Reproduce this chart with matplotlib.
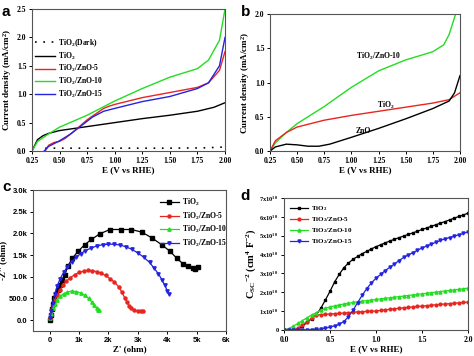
import numpy as np
import matplotlib
matplotlib.use('Agg')
import matplotlib.pyplot as plt

plt.rcParams['font.family'] = ['Liberation Serif', 'DejaVu Serif']
plt.rcParams['font.weight'] = 'bold'
plt.rcParams['mathtext.fontset'] = 'custom'
plt.rcParams['mathtext.rm'] = 'Liberation Serif:bold'
plt.rcParams['mathtext.it'] = 'Liberation Serif:bold'
plt.rcParams['mathtext.bf'] = 'Liberation Serif:bold'
plt.rcParams['mathtext.default'] = 'rm'

# ---- panel a: LSV curves ----
a_dark_x = [0.37, 0.6, 0.9, 1.2, 1.5, 1.8, 2.0]
a_dark_y = [0.05, 0.05, 0.05, 0.05, 0.05, 0.055, 0.07]
a_tio2_x = [0.25, 0.28, 0.3, 0.35, 0.4, 0.5, 0.75, 1.0, 1.25, 1.5, 1.75, 1.9, 2.0]
a_tio2_y = [0.0, 0.12, 0.2, 0.27, 0.31, 0.36, 0.43, 0.5, 0.57, 0.63, 0.7, 0.77, 0.85]
a_zno5_x = [0.37, 0.4, 0.45, 0.5, 0.55, 0.65, 0.75, 0.9, 0.95, 1.0, 1.25, 1.5, 1.75, 1.85, 1.95, 2.0]
a_zno5_y = [0.0, 0.1, 0.15, 0.17, 0.22, 0.38, 0.55, 0.75, 0.79, 0.82, 0.94, 1.03, 1.12, 1.2, 1.42, 1.75]
a_zno10_x = [0.25, 0.28, 0.3, 0.4, 0.5, 0.75, 1.0, 1.25, 1.5, 1.75, 1.85, 1.95, 2.0]
a_zno10_y = [0.0, 0.1, 0.17, 0.3, 0.42, 0.63, 0.88, 1.1, 1.3, 1.45, 1.6, 1.95, 2.5]
a_zno15_x = [0.36, 0.4, 0.45, 0.5, 0.6, 0.7, 0.8, 0.9, 1.0, 1.25, 1.5, 1.75, 1.85, 1.95, 2.0]
a_zno15_y = [0.0, 0.08, 0.13, 0.18, 0.3, 0.45, 0.6, 0.7, 0.75, 0.87, 0.96, 1.1, 1.2, 1.5, 2.0]

# ---- panel b ----
b_zno10_x = [0.25, 0.3, 0.4, 0.5, 0.75, 1.0, 1.25, 1.5, 1.75, 1.85, 1.9, 1.95, 1.97]
b_zno10_y = [0.0, 0.12, 0.27, 0.4, 0.65, 0.93, 1.17, 1.33, 1.45, 1.55, 1.7, 1.95, 2.05]
b_tio2_x = [0.25, 0.3, 0.4, 0.5, 0.75, 1.0, 1.25, 1.5, 1.75, 1.9, 2.0]
b_tio2_y = [0.0, 0.15, 0.27, 0.35, 0.45, 0.52, 0.58, 0.64, 0.7, 0.75, 0.85]
b_zno_x = [0.25, 0.3, 0.4, 0.5, 0.6, 0.7, 0.8, 1.0, 1.25, 1.5, 1.75, 1.9, 1.95, 2.0]
b_zno_y = [0.0, 0.06, 0.1, 0.09, 0.07, 0.07, 0.1, 0.2, 0.33, 0.47, 0.62, 0.73, 0.85, 1.1]

# ---- panel c: Nyquist (k ohm) ----
c_tio2_x = [0.02, 0.04, 0.07, 0.1, 0.15, 0.2, 0.27, 0.34, 0.42, 0.51, 0.63, 0.77, 0.97, 1.19,
            1.42, 1.7, 2.05, 2.41, 2.78, 3.13, 3.47, 3.81, 4.09, 4.32, 4.55, 4.72, 4.86, 4.94, 5.06]
c_tio2_y = [0.0, 0.12, 0.25, 0.38, 0.5, 0.6, 0.7, 0.81, 0.93, 1.05, 1.26, 1.43, 1.59, 1.74,
            1.86, 1.99, 2.09, 2.09, 2.09, 2.03, 1.9, 1.74, 1.59, 1.43, 1.29, 1.24, 1.21, 1.19, 1.22]
c_zno5_x = [0.02, 0.05, 0.08, 0.12, 0.18, 0.25, 0.35, 0.45, 0.57, 0.7, 0.85, 1.0, 1.15, 1.3, 1.45,
            1.6, 1.75, 1.9, 2.05, 2.2, 2.35, 2.45, 2.55, 2.62, 2.7, 2.78, 2.88, 3.0, 3.1, 3.18]
c_zno5_y = [0.05, 0.15, 0.25, 0.35, 0.47, 0.58, 0.7, 0.8, 0.9, 0.98, 1.05, 1.1, 1.13, 1.15, 1.14,
            1.12, 1.08, 1.03, 0.96, 0.88, 0.77, 0.65, 0.52, 0.42, 0.33, 0.27, 0.23, 0.21, 0.2, 0.2]
c_zno10_x = [0.02, 0.05, 0.1, 0.17, 0.25, 0.35, 0.47, 0.6, 0.75, 0.9, 1.05, 1.2, 1.32, 1.43, 1.52,
             1.6, 1.65, 1.68]
c_zno10_y = [0.05, 0.15, 0.27, 0.38, 0.47, 0.55, 0.61, 0.65, 0.67, 0.66, 0.63, 0.57, 0.5, 0.42,
             0.34, 0.27, 0.24, 0.23]
c_zno15_x = [0.02, 0.05, 0.1, 0.17, 0.25, 0.35, 0.47, 0.6, 0.75, 0.9, 1.05, 1.2, 1.4, 1.6, 1.8,
             2.0, 2.2, 2.4, 2.6, 2.8, 3.0, 3.2, 3.4, 3.55, 3.7, 3.82, 3.92, 4.0, 4.05]
c_zno15_y = [0.05, 0.2, 0.4, 0.6, 0.78, 0.95, 1.1, 1.23, 1.35, 1.45, 1.53, 1.6, 1.66, 1.71, 1.74,
             1.75, 1.75, 1.73, 1.69, 1.63, 1.55, 1.45, 1.33, 1.2, 1.07, 0.93, 0.8, 0.68, 0.6]

# ---- panel d: Mott-Schottky (x1e10) ----
d_x = [0.0, 0.05, 0.1, 0.15, 0.2, 0.25, 0.3, 0.35, 0.4, 0.45, 0.5, 0.55, 0.6, 0.65, 0.7, 0.75,
       0.8, 0.85, 0.9, 0.95, 1.0, 1.05, 1.1, 1.15, 1.2, 1.25, 1.3, 1.35, 1.4, 1.45, 1.5, 1.55,
       1.6, 1.65, 1.7, 1.75, 1.8, 1.85, 1.9, 1.95, 2.0]
d_tio2 = [0, 0, 0, 0.05, 0.2, 0.4, 0.6, 0.8, 1.15, 1.6, 2.05, 2.55, 2.95, 3.3, 3.55, 3.75,
          3.9, 4.05, 4.17, 4.3, 4.42, 4.52, 4.62, 4.72, 4.81, 4.9, 4.98, 5.07, 5.15, 5.24, 5.33,
          5.41, 5.5, 5.58, 5.67, 5.75, 5.84, 5.93, 6.02, 6.1, 6.2]
d_zno5 = [0, 0, 0.02, 0.1, 0.25, 0.45, 0.62, 0.78, 0.82, 0.83, 0.85, 0.87, 0.88, 0.9, 0.92,
          0.94, 0.96, 0.97, 0.99, 1.0, 1.01, 1.04, 1.07, 1.1, 1.13, 1.15, 1.18, 1.2, 1.22, 1.25,
          1.27, 1.29, 1.31, 1.34, 1.36, 1.38, 1.4, 1.42, 1.44, 1.46, 1.48]
d_zno10 = [0, 0.08, 0.2, 0.35, 0.5, 0.65, 0.8, 0.92, 1.05, 1.15, 1.23, 1.28, 1.33, 1.38, 1.42,
           1.46, 1.5, 1.53, 1.56, 1.59, 1.62, 1.65, 1.68, 1.71, 1.74, 1.77, 1.8, 1.83, 1.86,
           1.89, 1.92, 1.95, 1.98, 2.01, 2.04, 2.07, 2.1, 2.13, 2.16, 2.19, 2.22]
d_zno15 = [0, 0, 0, 0, 0, 0.01, 0.02, 0.03, 0.05, 0.09, 0.15, 0.22, 0.3, 0.45, 0.7, 1.05,
           1.45, 1.85, 2.2, 2.5, 2.75, 2.95, 3.15, 3.33, 3.5, 3.68, 3.85, 3.98, 4.1, 4.23, 4.35,
           4.45, 4.55, 4.65, 4.75, 4.83, 4.9, 4.97, 5.05, 5.12, 5.2]

tick_fs = 5.5
lab_fs = 6.5

fig = plt.figure(figsize=(4.74, 3.56), dpi=100)

def style(ax):
    for s in ax.spines.values():
        s.set_linewidth(0.8)
        s.set_color('#555555')
    ax.tick_params(labelsize=tick_fs, length=2.5, width=0.7, pad=1.5)
    for lab in ax.get_xticklabels() + ax.get_yticklabels():
        lab.set_fontweight('bold')

# panel a
axa = fig.add_axes([0.0675, 0.5758, 0.4072, 0.3989])
axa.plot(a_dark_x, a_dark_y, color='black', ls=(0, (1, 4)), lw=1.2, label='TiO$_2$(Dark)')
axa.plot(a_tio2_x, a_tio2_y, color='black', lw=1.0, label='TiO$_2$')
axa.plot(a_zno5_x, a_zno5_y, color='#e8251f', lw=1.0, label='TiO$_2$/ZnO-5')
axa.plot(a_zno10_x, a_zno10_y, color='#22dd22', lw=1.0, label='TiO$_2$/ZnO-10')
axa.plot(a_zno15_x, a_zno15_y, color='#2323e0', lw=1.0, label='TiO$_2$/ZnO-15')
axa.set_xlim(0.25, 2.0)
axa.set_ylim(0, 2.5)
axa.set_xticks([0.25, 0.5, 0.75, 1.0, 1.25, 1.5, 1.75, 2.0])
axa.set_xticklabels(['0.25', '0.50', '0.75', '1.00', '1.25', '1.50', '1.75', '2.00'])
axa.set_yticks([0, 0.5, 1.0, 1.5, 2.0, 2.5])
axa.set_yticklabels(['0.0', '0.5', '1.0', '1.5', '2.0', '2.5'])
axa.set_xlabel('E (V vs RHE)', fontsize=lab_fs, fontweight='bold', labelpad=1)
axa.set_ylabel('Current density (mA/cm$^2$)', fontsize=lab_fs, fontweight='bold', labelpad=2)
axa.legend(loc='center left', bbox_to_anchor=(-0.02, 0.58), frameon=False, fontsize=5.5,
           handlelength=2.6, labelspacing=0.22, handletextpad=0.4)
style(axa)

# panel b
axb = fig.add_axes([0.5696, 0.5758, 0.4008, 0.3848])
axb.plot(b_zno10_x, b_zno10_y, color='#22dd22', lw=1.0)
axb.plot(b_tio2_x, b_tio2_y, color='#e8251f', lw=1.0)
axb.plot(b_zno_x, b_zno_y, color='black', lw=1.0)
axb.text(1.04, 1.35, 'TiO$_2$/ZnO-10', fontsize=5.5, fontweight='bold')
axb.text(1.24, 0.63, 'TiO$_2$', fontsize=5.5, fontweight='bold')
axb.text(1.04, 0.26, 'ZnO', fontsize=5.5, fontweight='bold')
axb.set_xlim(0.25, 2.0)
axb.set_ylim(0, 2.0)
axb.set_xticks([0.25, 0.5, 0.75, 1.0, 1.25, 1.5, 1.75, 2.0])
axb.set_xticklabels(['0.25', '0.50', '0.75', '1.00', '1.25', '1.50', '1.75', '2.00'])
axb.set_yticks([0, 0.5, 1.0, 1.5, 2.0])
axb.set_yticklabels(['0.0', '0.5', '1.0', '1.5', '2.0'])
axb.set_xlabel('E (V vs RHE)', fontsize=lab_fs, fontweight='bold', labelpad=1)
axb.set_ylabel('Current density (mA/cm$^2$)', fontsize=lab_fs, fontweight='bold', labelpad=2)
style(axb)

# panel c
axc = fig.add_axes([0.0696, 0.0702, 0.4072, 0.396])
axc.plot(c_tio2_x, c_tio2_y, color='black', lw=0.9, marker='s', ms=2.2, label='TiO$_2$')
axc.plot(c_zno5_x, c_zno5_y, color='#e8251f', lw=0.9, marker='o', ms=2.2, label='TiO$_2$/ZnO-5')
axc.plot(c_zno10_x, c_zno10_y, color='#22dd22', lw=0.9, marker='^', ms=2.4, label='TiO$_2$/ZnO-10')
axc.plot(c_zno15_x, c_zno15_y, color='#2323e0', lw=0.9, marker='v', ms=2.4, label='TiO$_2$/ZnO-15')
axc.set_xlim(-0.57, 6.0)
axc.set_ylim(-0.25, 3.0)
axc.set_xticks([0, 1, 2, 3, 4, 5, 6])
axc.set_xticklabels(['0', '1k', '2k', '3k', '4k', '5k', '6k'])
axc.set_yticks([0, 0.5, 1.0, 1.5, 2.0, 2.5, 3.0])
axc.set_yticklabels(['0.0', '500.0', '1.0k', '1.5k', '2.0k', '2.5k', '3.0k'])
axc.set_xlabel("Z' (ohm)", fontsize=lab_fs, fontweight='bold', labelpad=1)
axc.set_ylabel("-Z'' (ohm)", fontsize=lab_fs, fontweight='bold', labelpad=1)
axc.legend(loc='upper left', bbox_to_anchor=(0.62, 1.0), frameon=False, fontsize=5.5,
           handlelength=2.6, labelspacing=0.3, handletextpad=0.4)
style(axc)
for lab in axc.get_xticklabels() + axc.get_yticklabels():
    lab.set_family(['Liberation Sans', 'DejaVu Sans'])

# panel d
axd = fig.add_axes([0.5992, 0.073, 0.3882, 0.3708])
axd.plot(d_x, d_tio2, color='black', lw=0.9, marker='s', ms=2.0, label='TiO$_2$')
axd.plot(d_x, d_zno5, color='#e8251f', lw=0.9, marker='o', ms=2.0, label='TiO$_2$/ZnO-5')
axd.plot(d_x, d_zno10, color='#22dd22', lw=0.9, marker='^', ms=2.2, label='TiO$_2$/ZnO-10')
axd.plot(d_x, d_zno15, color='#2323e0', lw=0.9, marker='v', ms=2.2, label='TiO$_2$/ZnO-15')
axd.set_xlim(0, 2.0)
axd.set_ylim(0, 7)
axd.set_xticks([0, 0.5, 1.0, 1.5, 2.0])
axd.set_xticklabels(['0.0', '0.5', '1.0', '1.5', '2.0'])
axd.set_yticks(range(8))
axd.set_yticklabels(['0'] + ['%dx10$^{10}$' % i for i in range(1, 8)])
axd.set_xlabel('E (V vs RHE)', fontsize=lab_fs, fontweight='bold', labelpad=1)
axd.set_ylabel('C$_{SC}$$^{-2}$ (cm$^4$ F$^{-2}$)', fontsize=lab_fs + 1, fontweight='bold', labelpad=1)
axd.legend(loc='upper left', bbox_to_anchor=(0.0, 1.0), frameon=False, fontsize=5,
           handlelength=2.6, labelspacing=0.3, handletextpad=0.4)
style(axd)
axd.tick_params(axis='y', labelsize=4.6)

for x, y, t in [(0.004, 0.985, 'a'), (0.508, 0.985, 'b'), (0.004, 0.495, 'c'), (0.508, 0.47, 'd')]:
    fig.text(x, y, t, fontsize=11, fontweight='bold', family='Liberation Sans', va='top')

fig.savefig('out.png', dpi=100)
